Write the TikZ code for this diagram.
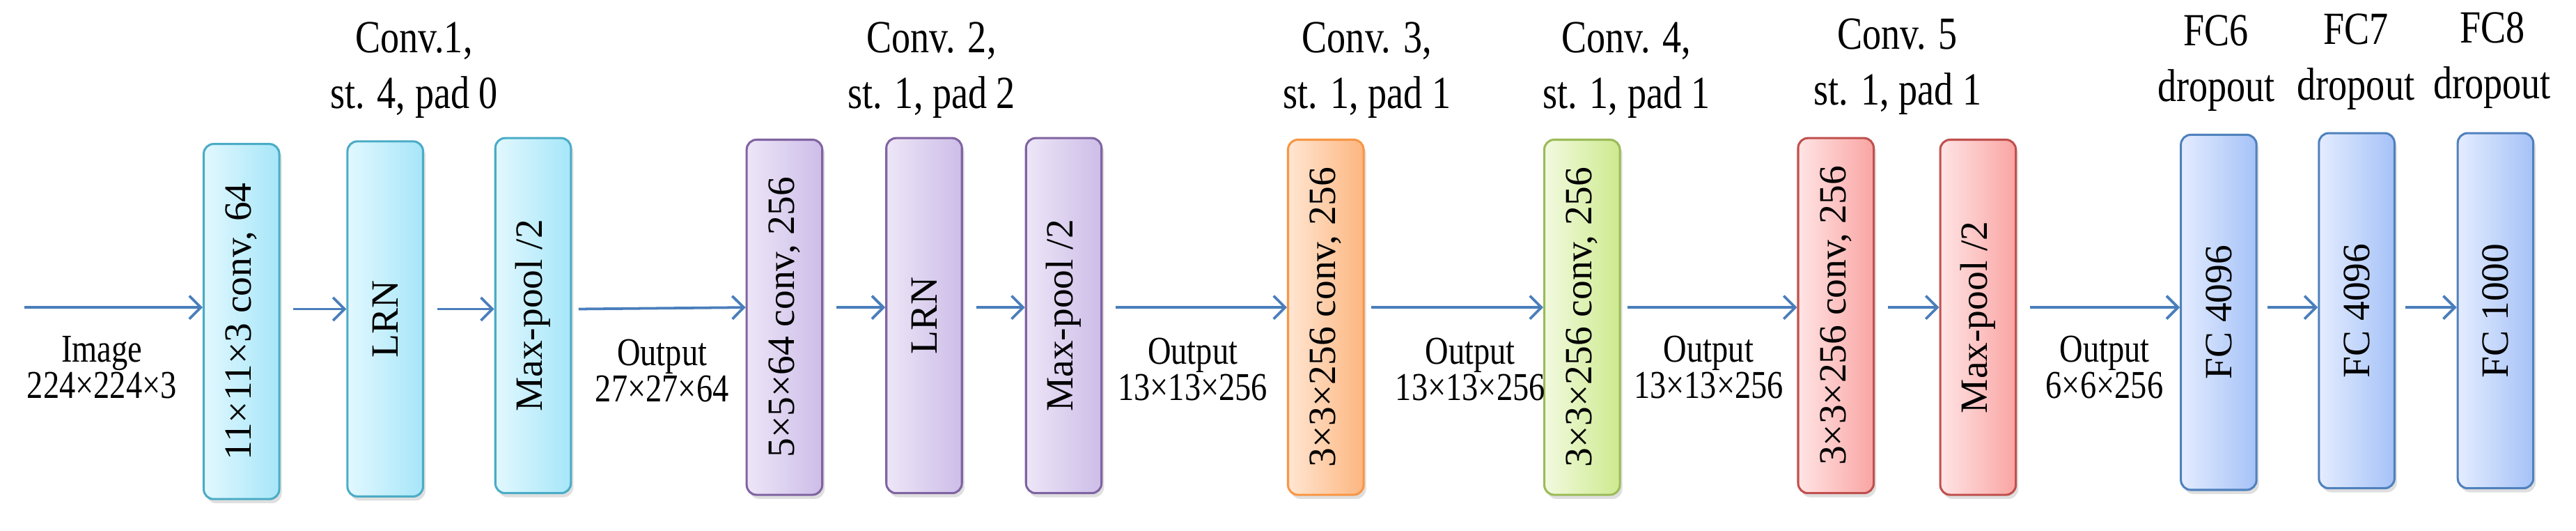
\documentclass[tikz,border=0pt]{standalone}
\usepackage{fontspec}
\setmainfont{Liberation Serif}
\newfontfamily\cond[FakeStretch=0.82]{Liberation Serif}
\usetikzlibrary{arrows.meta,shadows}
\definecolor{cyB}{HTML}{4BACC6}\definecolor{cyL}{HTML}{E2F8FE}\definecolor{cyR}{HTML}{A6E6F9}
\definecolor{puB}{HTML}{8064A2}\definecolor{puL}{HTML}{EDE6F7}\definecolor{puR}{HTML}{CDBDE8}
\definecolor{orB}{HTML}{F79646}\definecolor{orL}{HTML}{FFE6D2}\definecolor{orR}{HTML}{FDB680}
\definecolor{grB}{HTML}{9BBB59}\definecolor{grL}{HTML}{F2FADF}\definecolor{grR}{HTML}{CDEA8E}
\definecolor{reB}{HTML}{C0504D}\definecolor{reL}{HTML}{FFE4E4}\definecolor{reR}{HTML}{F9A5A3}
\definecolor{blB}{HTML}{4F81BD}\definecolor{blL}{HTML}{E4ECFF}\definecolor{blR}{HTML}{A5C2F7}
\definecolor{arr}{HTML}{4A7EBB}
\tikzset{
 x=1pt,y=1pt,
 blk/.style n args={3}{draw=#1,line width=1.3pt,left color=#2,right color=#3,rounded corners=6pt,
   minimum width=46pt,minimum height=216pt,inner sep=0pt,
   drop shadow={shadow xshift=1.5pt,shadow yshift=-2.5pt,opacity=0.25}},
 cy/.style={blk={cyB}{cyL}{cyR}}, pu/.style={blk={puB}{puL}{puR}},
 or/.style={blk={orB}{orL}{orR}}, gr/.style={blk={grB}{grL}{grR}},
 re/.style={blk={reB}{reL}{reR}}, bl/.style={blk={blB}{blL}{blR}},
 txt/.style={rotate=90,font=\fontsize{23.5}{24}\selectfont},
 hd/.style={align=center,font=\cond\fontsize{28}{34}\selectfont},
 lb/.style={align=center,font=\cond\fontsize{24}{22}\selectfont},
 ar/.style={draw=arr,line width=1.6pt,-{Straight Barb[length=7pt,width=14pt,line width=1.6pt]}},
}
\begin{document}
\begin{tikzpicture}
\useasboundingbox (0,0) rectangle (1568,322.6);
\node[cy] (b1) at (147,127) {};
\node[txt] at (b1) {11×11×3 conv, 64};
\node[cy] (b2) at (234.5,128.6) {};
\node[txt] at (b2) {LRN};
\node[cy] (b3) at (324.5,130.6) {};
\node[txt] at (b3) {Max-pool /2};
\node[pu] (b4) at (477.5,129.6) {};
\node[txt] at (b4) {5×5×64 conv, 256};
\node[pu] (b5) at (562.5,130.6) {};
\node[txt] at (b5) {LRN};
\node[pu] (b6) at (647.5,130.6) {};
\node[txt] at (b6) {Max-pool /2};
\node[or] (b7) at (807,129.6) {};
\node[txt] at (b7) {3×3×256 conv, 256};
\node[gr] (b8) at (963,129.6) {};
\node[txt] at (b8) {3×3×256 conv, 256};
\node[re] (b9) at (1117.5,130.6) {};
\node[txt] at (b9) {3×3×256 conv, 256};
\node[re] (b10) at (1204,129.6) {};
\node[txt] at (b10) {Max-pool /2};
\node[bl] (b11) at (1350.5,132.6) {};
\node[txt] at (b11) {FC 4096};
\node[bl] (b12) at (1434.5,133.6) {};
\node[txt] at (b12) {FC 4096};
\node[bl] (b13) at (1519,133.6) {};
\node[txt] at (b13) {FC 1000};
\coordinate (in) at (15,135.6);
\draw[ar] (in) -- (b1.west|-in);
\draw[ar] ([xshift=8pt]b1.east|-0,134.6) -- (b2.west|-0,134.6);
\draw[ar] ([xshift=8pt]b2.east|-0,134.6) -- (b3.west|-0,134.6);
\draw[ar] ([xshift=4pt]b3.east|-0,134.6) -- (b4.west|-0,135.6);
\draw[ar] ([xshift=8pt]b4.east|-0,135.6) -- (b5.west|-0,135.6);
\draw[ar] ([xshift=8pt]b5.east|-0,135.6) -- (b6.west|-0,135.6);
\draw[ar] ([xshift=8pt]b6.east|-0,135.6) -- (b7.west|-0,135.6);
\draw[ar] ([xshift=4pt]b7.east|-0,135.6) -- (b8.west|-0,135.6);
\draw[ar] ([xshift=4pt]b8.east|-0,135.6) -- (b9.west|-0,135.6);
\draw[ar] ([xshift=8pt]b9.east|-0,135.6) -- (b10.west|-0,135.6);
\draw[ar] ([xshift=8pt]b10.east|-0,135.6) -- (b11.west|-0,135.6);
\draw[ar] ([xshift=6pt]b11.east|-0,135.6) -- (b12.west|-0,135.6);
\draw[ar] ([xshift=6pt]b12.east|-0,135.6) -- (b13.west|-0,135.6);
\node[hd] (h1) at (252,280) {Conv.1,\\st. 4, pad 0};
\node[hd] (h2) at (567,280) {Conv. 2,\\st. 1, pad 2};
\node[hd] (h3) at (832,280) {Conv. 3,\\st. 1, pad 1};
\node[hd] (h4) at (990,280) {Conv. 4,\\st. 1, pad 1};
\node[hd] (h5) at (1155,282) {Conv. 5\\st. 1, pad 1};
\node[hd] (h6) at (1349,284) {FC6\\dropout};
\node[hd] (h7) at (1434,285) {FC7\\dropout};
\node[hd] (h8) at (1517,286) {FC8\\dropout};
\node[lb] (l1) at (62,99) {Image\\224×224×3};
\node[lb] (l2) at (403,97) {Output\\27×27×64};
\node[lb] (l3) at (726,98) {Output\\13×13×256};
\node[lb] (l4) at (895,98) {Output\\13×13×256};
\node[lb] (l5) at (1040,99) {Output\\13×13×256};
\node[lb] (l6) at (1281,99) {Output\\6×6×256};
\end{tikzpicture}
\end{document}
